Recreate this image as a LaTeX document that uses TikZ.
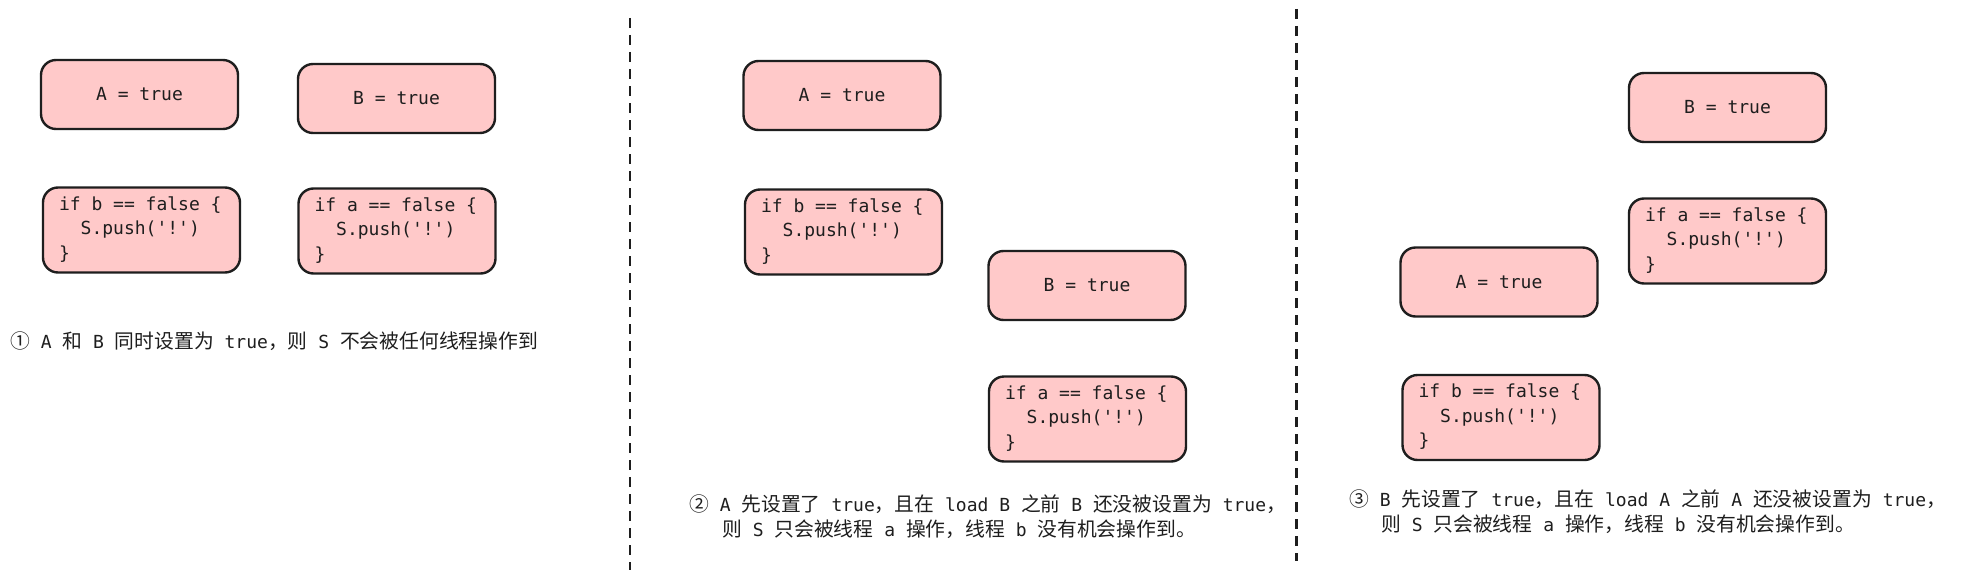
\documentclass[tikz,border=0pt]{standalone}
\usepackage{fontspec}
\setmonofont{DejaVu Sans Mono}
\newfontfamily\cjk[Scale=1.1]{Noto Sans CJK SC}
\definecolor{pinkc}{HTML}{FFC9C9}
\definecolor{strokec}{HTML}{1E1E1E}
\tikzset{
  box/.style={draw=strokec, line width=2.4pt, fill=pinkc, rounded corners=15pt,
    minimum width=197pt, inner sep=0pt, text=strokec,
    font=\ttfamily\fontsize{18}{24.5}\selectfont},
  valbox/.style={box, minimum height=69pt},
  codebox/.style={box, minimum height=85pt},
  captext/.style={anchor=west, inner sep=0pt, text=strokec,
    font=\ttfamily\fontsize{18}{24}\selectfont},
  sepline/.style={draw=strokec, line width=2.2pt, dash pattern=on 10pt off 7pt}
}
\newcommand{\codelines}[1]{\makebox[165pt][l]{\begin{tabular}{@{}l@{}}#1\end{tabular}}}
\newcommand{\codeb}{\codelines{if b == false \{\\\phantom{xx}S.push('!')\\\}}}
\newcommand{\codea}{\codelines{if a == false \{\\\phantom{xx}S.push('!')\\\}}}
\begin{document}
\begin{tikzpicture}[x=1pt,y=-1pt]
\fill[white] (0,0) rectangle (1961,578);
\useasboundingbox (0,0) rectangle (1961,578);

% separators
\coordinate (s1t) at (630,18);
\coordinate (s1b) at (630,570);
\coordinate (s2t) at (1296.5,9);
\coordinate (s2b) at (1296.5,561);
\draw[sepline] (s1t) -- (s1b);
\draw[sepline] (s2t) -- (s2b);

% panel 1
\node[valbox] (a1) at (139.5,94.5) {A = true};
\node[valbox] (b1) at (396.5,98.5) {B = true};
\node[codebox] (cb1) at (141.5,230) {\codeb};
\node[codebox] (ca1) at (397,231) {\codea};
\node[captext] (cap1) at (10,341) {{\cjk ①} A {\cjk 和} B {\cjk 同时设置为} true{\cjk ，则} S {\cjk 不会被任何线程操作到}};

% panel 2
\node[valbox] (a2) at (842,95.5) {A = true};
\node[codebox] (cb2) at (843.5,232) {\codeb};
\node[valbox] (b2) at (1087,285.5) {B = true};
\node[codebox] (ca2) at (1087.5,419) {\codea};
\node[captext] (cap2a) at (689,504) {{\cjk ②} A {\cjk 先设置了} true{\cjk ，且在} load B {\cjk 之前} B {\cjk 还没被设置为} true{\cjk ，}};
\node[captext] (cap2b) at (722,529) {{\cjk 则} S {\cjk 只会被线程} a {\cjk 操作，线程} b {\cjk 没有机会操作到。}};

% panel 3
\node[valbox] (b3) at (1727.5,107.5) {B = true};
\node[codebox] (ca3) at (1727.5,241) {\codea};
\node[valbox] (a3) at (1499,282) {A = true};
\node[codebox] (cb3) at (1501,417.5) {\codeb};
\node[captext] (cap3a) at (1349,499) {{\cjk ③} B {\cjk 先设置了} true{\cjk ，且在} load A {\cjk 之前} A {\cjk 还没被设置为} true{\cjk ，}};
\node[captext] (cap3b) at (1381,524) {{\cjk 则} S {\cjk 只会被线程} a {\cjk 操作，线程} b {\cjk 没有机会操作到。}};
\end{tikzpicture}
\end{document}
